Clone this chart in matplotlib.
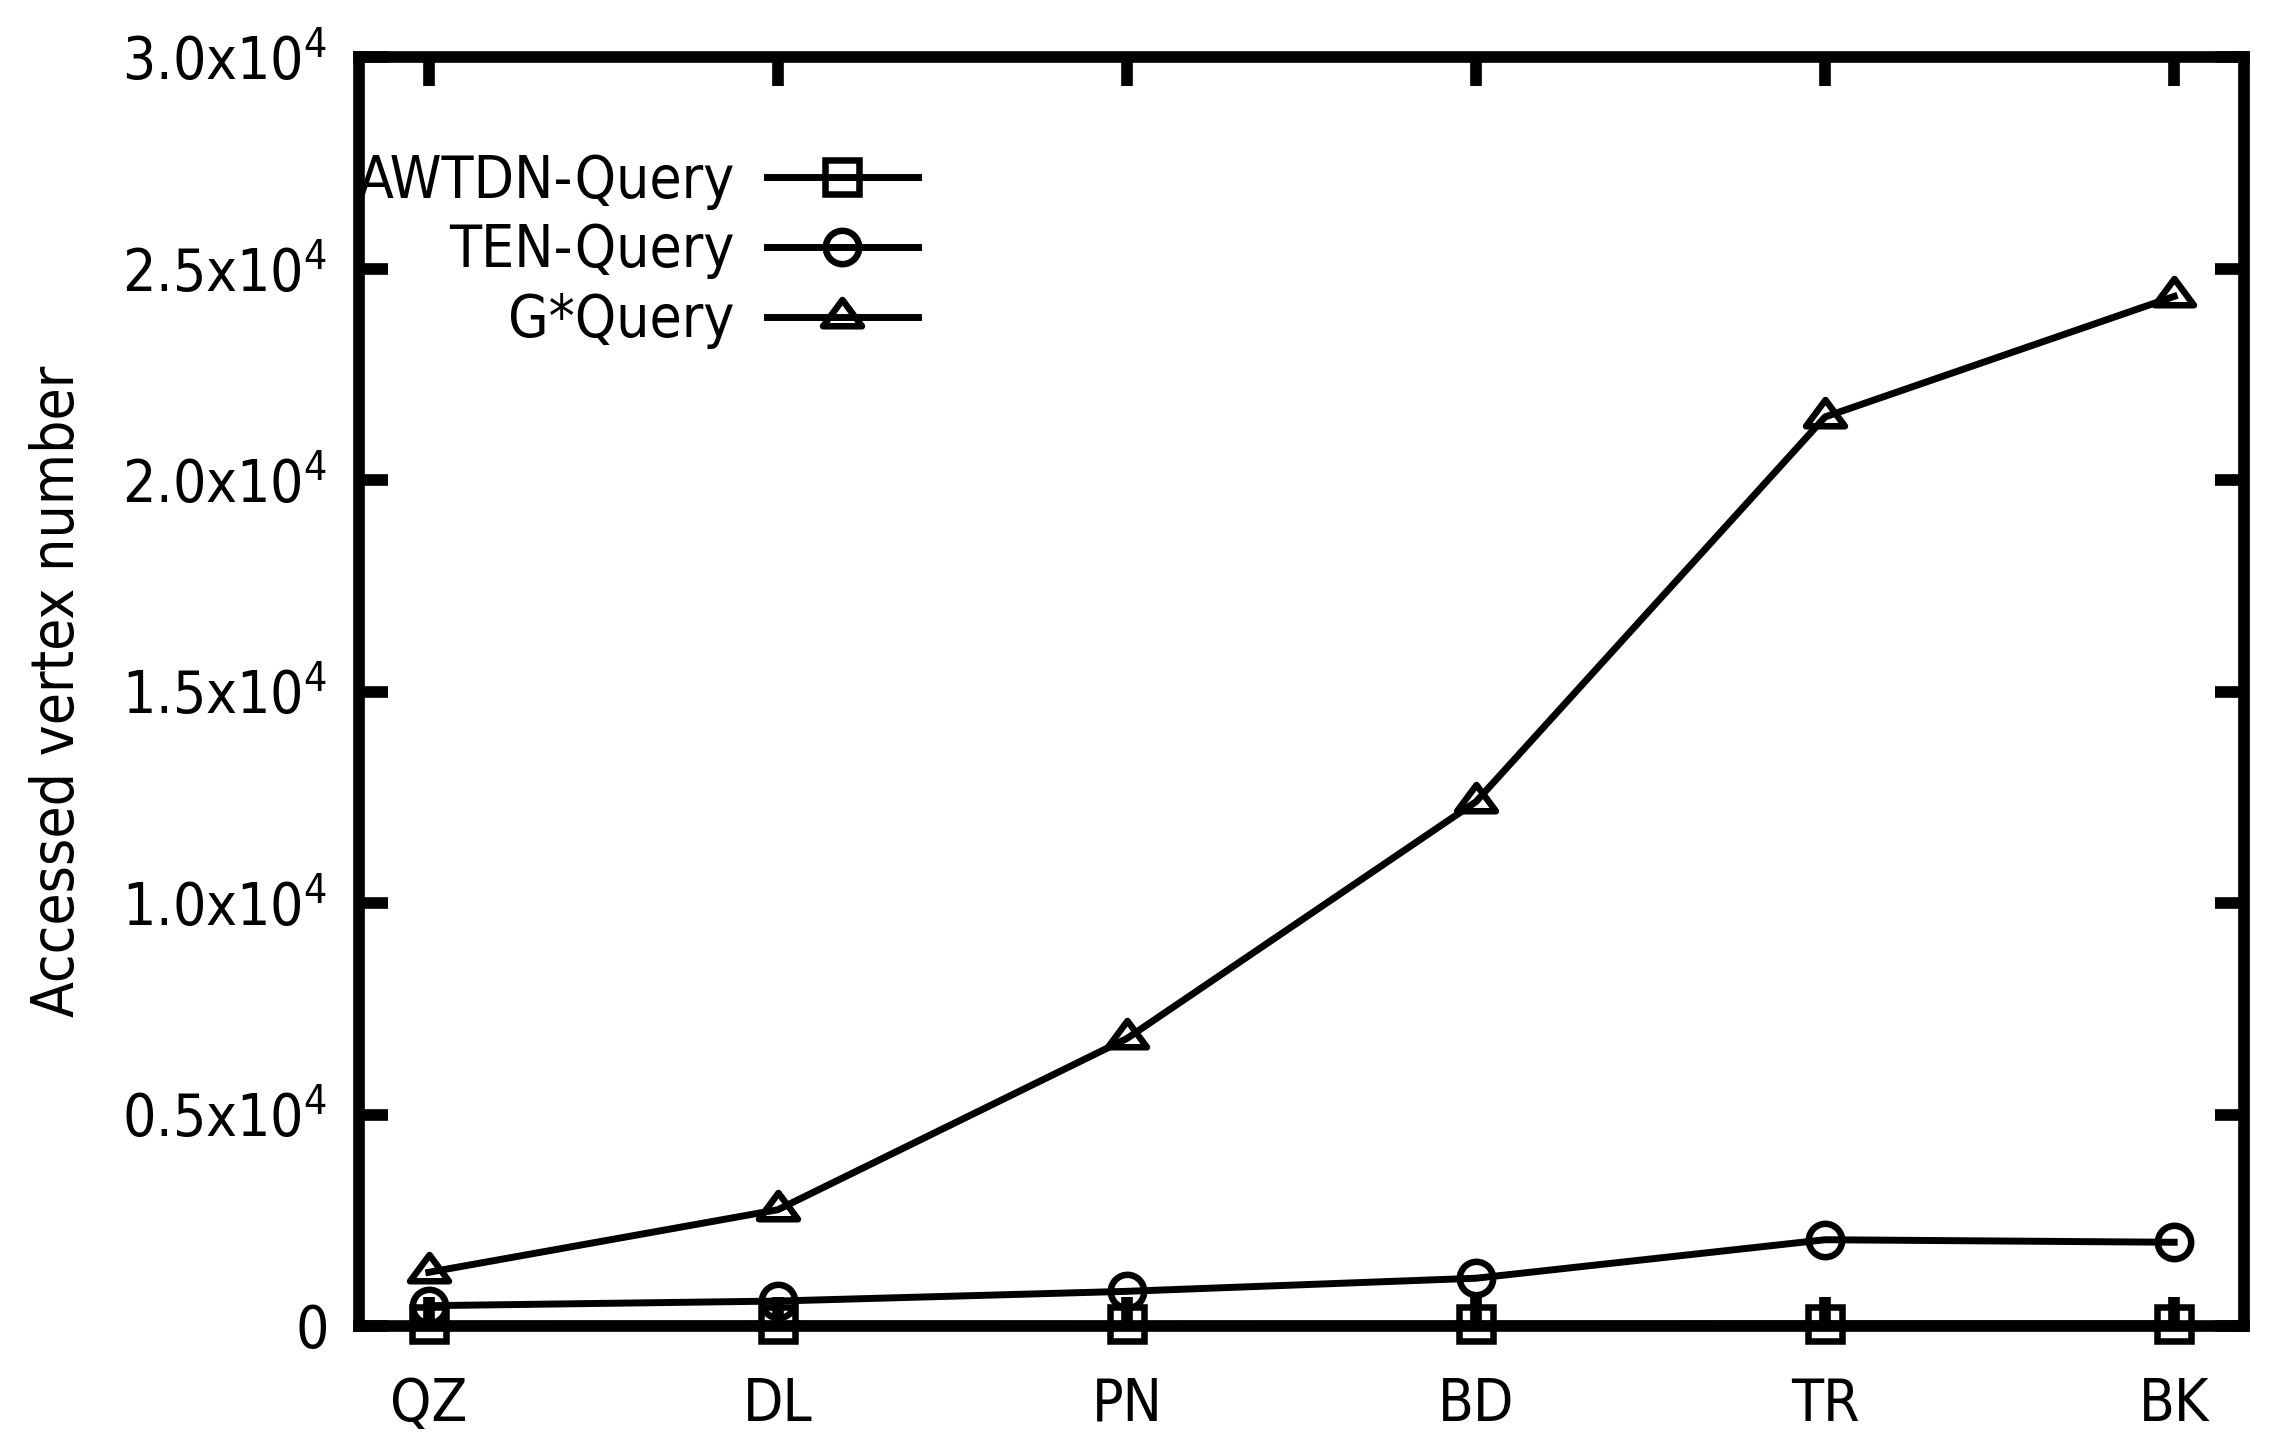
import matplotlib
matplotlib.use("Agg")
import matplotlib.pyplot as plt
from matplotlib.path import Path

plt.rcParams['font.family'] = ['DejaVu Sans']
plt.rcParams['font.stretch'] = 'condensed'
plt.rcParams['mathtext.fontset'] = 'custom'
plt.rcParams['mathtext.rm'] = 'DejaVu Sans:stretch=condensed'
plt.rcParams['mathtext.it'] = 'DejaVu Sans:stretch=condensed'

categories = ['QZ', 'DL', 'PN', 'BD', 'TR', 'BK']
awtdn = [40, 45, 40, 45, 50, 50]
ten = [480, 590, 820, 1130, 2040, 1980]
gstar = [1270, 2750, 6800, 12400, 21500, 24350]
series_names = ['AWTDN-Query', 'TEN-Query', 'G*Query']
ytick_values = [0, 5000, 10000, 15000, 20000, 25000, 30000]
ytick_labels = ['0', '0.5x10^{4}', '1.0x10^{4}', '1.5x10^{4}', '2.0x10^{4}', '2.5x10^{4}', '3.0x10^{4}']
ylabel = 'Accessed vertex number'

FS = 42
fig = plt.figure(figsize=(22.72, 14.49), dpi=100)
ax = fig.add_axes([0.15801, 0.08489, 0.82967, 0.87543])

tri = Path([(-1, -0.45), (1, -0.45), (0, 0.9), (-1, -0.45)],
           [Path.MOVETO, Path.LINETO, Path.LINETO, Path.CLOSEPOLY])

x = list(range(len(categories)))
common = dict(color='black', lw=5, mfc='none', mec='black', mew=4.7, clip_on=False)
ax.plot(x, awtdn, marker='s', ms=24, label=series_names[0], **common)
ax.plot(x, ten, marker='o', ms=24, label=series_names[1], **common)
ax.plot(x, gstar, marker=tri, ms=28, label=series_names[2], **common)

ax.set_xlim(-0.2, 5.2)
ax.set_ylim(0, 30000)
ax.set_xticks(x)
ax.set_xticklabels(categories, fontsize=FS)
ax.set_yticks(ytick_values)
ax.set_yticklabels([r'$\mathrm{%s}$' % s for s in ytick_labels], fontsize=FS)

for sp in ax.spines.values():
    sp.set_linewidth(8.4)
ax.tick_params(axis='both', direction='in', length=21, width=8.4,
               top=True, right=True, colors='black')
ax.tick_params(axis='x', pad=36)
ax.tick_params(axis='y', pad=23)

ax.set_ylabel(ylabel, fontsize=FS)
ax.yaxis.set_label_coords(-0.145, 0.5)

leg = ax.legend(loc='upper left', bbox_to_anchor=(-0.001, 0.925), frameon=False,
                markerfirst=False, fontsize=FS, handlelength=2.6, handletextpad=0.55,
                labelspacing=0.22, borderpad=0, borderaxespad=0, numpoints=1)

fig.savefig('out.png', dpi=100)
